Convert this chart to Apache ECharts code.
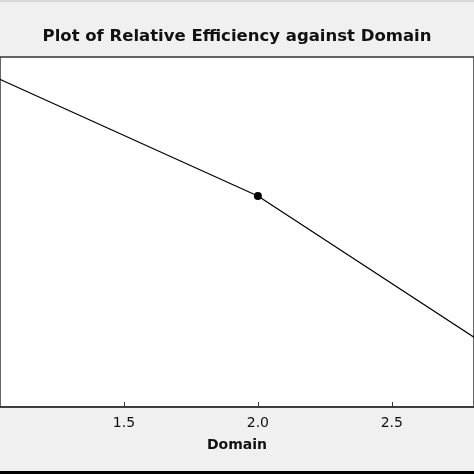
<!DOCTYPE html>
<html>
<head>
<meta charset="utf-8">
<script src="https://cdn.jsdelivr.net/npm/echarts@6/dist/echarts.min.js"></script>
<style>html,body{margin:0;padding:0;background:#f0f0f0}#main{width:474px;height:474px}</style>
</head>
<body>
<div id="main"></div>
<script>
var domain = [1.0, 2.0, 3.0];
var efficiency = [0.949, 0.603, 0.103];
var tickValues = [1.5, 2.0, 2.5];

var points = domain.map(function (d, i) { return [d, efficiency[i]]; });

var myChart = echarts.init(document.getElementById('main'));
myChart.setOption({
    backgroundColor: '#f0f0f0',
    animation: false,
    title: {
        left: 'center',
        top: 23,
        text: 'Plot of Relative Efficiency against Domain',
        textStyle: { fontFamily: 'DejaVu Sans', fontSize: 16.5, fontWeight: 'bold', color: '#111' }
    },
    grid: {
        left: -2, right: -2, top: 57, bottom: 67,
        show: true, backgroundColor: '#fff', borderColor: '#333', borderWidth: 1.5
    },
    xAxis: {
        type: 'value',
        min: 1.037,
        max: 2.807,
        name: 'Domain',
        nameLocation: 'middle',
        nameGap: 31,
        nameTextStyle: { fontFamily: 'DejaVu Sans', fontSize: 14, fontWeight: 'bold', color: '#111' },
        splitLine: { show: false },
        axisLine: { lineStyle: { color: '#333', width: 1.5 } },
        axisTick: { inside: true, length: 5, customValues: tickValues, lineStyle: { color: '#333' } },
        axisLabel: {
            customValues: tickValues, margin: 9,
            fontFamily: 'DejaVu Sans', fontSize: 14, color: '#111',
            formatter: function (v) { return v.toFixed(1); }
        }
    },
    yAxis: {
        type: 'value', min: 0, max: 1, show: false, splitLine: { show: false }
    },
    graphic: [
        { type: 'rect', shape: { x: 0, y: 471, width: 474, height: 3 }, style: { fill: '#000' } },
        { type: 'rect', shape: { x: 0, y: 0, width: 474, height: 2 }, style: { fill: '#d8d8d8' } }
    ],
    series: [{
        type: 'line',
        data: points,
        symbol: 'circle',
        symbolSize: 8,
        itemStyle: { color: '#000' },
        lineStyle: { color: '#000', width: 1.2 }
    }]
});
</script>
</body>
</html>
